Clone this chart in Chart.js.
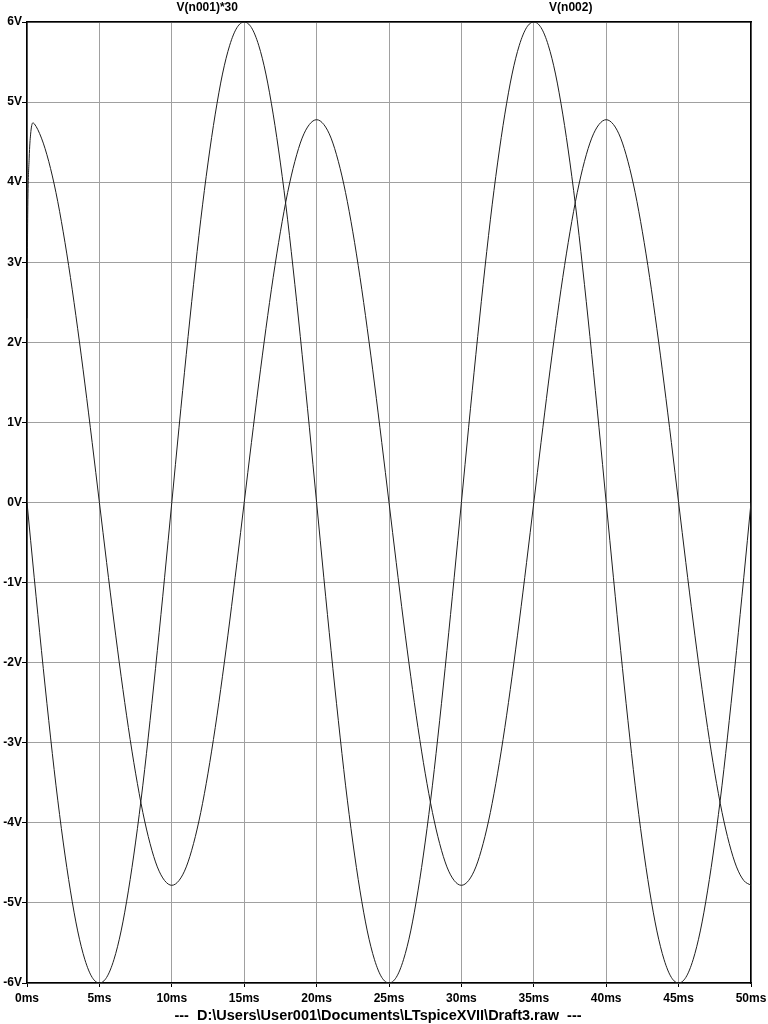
<!DOCTYPE html>
<html>
<head>
<meta charset="utf-8">
<script src="https://cdn.jsdelivr.net/npm/chart.js@4"></script>
<style>
  html, body { margin: 0; padding: 0; background: #fff; }
  #wrap { width: 768px; height: 1024px; }
</style>
</head>
<body>
<div id="wrap"><canvas id="plot"></canvas></div>
<script>
// time axis (ms), 0.5 ms steps
var timeMs = [
  0,0.5,1,1.5,2,2.5,3,3.5,4,4.5,5,5.5,6,6.5,7,7.5,8,8.5,9,9.5,
  10,10.5,11,11.5,12,12.5,13,13.5,14,14.5,15,15.5,16,16.5,17,17.5,18,18.5,19,19.5,
  20,20.5,21,21.5,22,22.5,23,23.5,24,24.5,25,25.5,26,26.5,27,27.5,28,28.5,29,29.5,
  30,30.5,31,31.5,32,32.5,33,33.5,34,34.5,35,35.5,36,36.5,37,37.5,38,38.5,39,39.5,
  40,40.5,41,41.5,42,42.5,43,43.5,44,44.5,45,45.5,46,46.5,47,47.5,48,48.5,49,49.5,50
];

// V(n001)*30
var vN001x30 = [
  0,-0.94,-1.85,-2.72,-3.53,-4.24,-4.85,-5.35,-5.71,-5.93,-6,
  -5.93,-5.71,-5.35,-4.85,-4.24,-3.53,-2.72,-1.85,-0.94,0,
  0.94,1.85,2.72,3.53,4.24,4.85,5.35,5.71,5.93,6,
  5.93,5.71,5.35,4.85,4.24,3.53,2.72,1.85,0.94,0,
  -0.94,-1.85,-2.72,-3.53,-4.24,-4.85,-5.35,-5.71,-5.93,-6,
  -5.93,-5.71,-5.35,-4.85,-4.24,-3.53,-2.72,-1.85,-0.94,0,
  0.94,1.85,2.72,3.53,4.24,4.85,5.35,5.71,5.93,6,
  5.93,5.71,5.35,4.85,4.24,3.53,2.72,1.85,0.94,0,
  -0.94,-1.85,-2.72,-3.53,-4.24,-4.85,-5.35,-5.71,-5.93,-6,
  -5.93,-5.71,-5.35,-4.85,-4.24,-3.53,-2.72,-1.85,-0.94,0
];

// V(n002) has a short start-up rise before 0.5 ms
var n002StartTime = [0, 0.05, 0.15, 0.25, 0.4];
var n002StartVolt = [2.3, 3.6, 4.3, 4.6, 4.74];

var vN002 = [
  4.73,4.55,4.26,3.87,3.38,2.81,2.17,1.48,0.75,0,
  -0.75,-1.48,-2.17,-2.81,-3.38,-3.87,-4.26,-4.55,-4.72,-4.78,
  -4.72,-4.55,-4.26,-3.87,-3.38,-2.81,-2.17,-1.48,-0.75,0,
  0.75,1.48,2.17,2.81,3.38,3.87,4.26,4.55,4.72,4.78,
  4.72,4.55,4.26,3.87,3.38,2.81,2.17,1.48,0.75,0,
  -0.75,-1.48,-2.17,-2.81,-3.38,-3.87,-4.26,-4.55,-4.72,-4.78,
  -4.72,-4.55,-4.26,-3.87,-3.38,-2.81,-2.17,-1.48,-0.75,0,
  0.75,1.48,2.17,2.81,3.38,3.87,4.26,4.55,4.72,4.78,
  4.72,4.55,4.26,3.87,3.38,2.81,2.17,1.48,0.75,0,
  -0.75,-1.48,-2.17,-2.81,-3.38,-3.87,-4.26,-4.55,-4.72,-4.78
];

var traceNames = ['V(n001)*30', 'V(n002)'];
var fileLabel = '---  D:\\Users\\User001\\Documents\\LTspiceXVII\\Draft3.raw  ---';

var pts1 = [];
for (var i = 0; i < timeMs.length; i++) {
  pts1.push({x: timeMs[i], y: vN001x30[i]});
}
var pts2 = [];
for (var j = 0; j < n002StartTime.length; j++) {
  pts2.push({x: n002StartTime[j], y: n002StartVolt[j]});
}
for (var k = 0; k < vN002.length; k++) {
  pts2.push({x: timeMs[k + 1], y: vN002[k]});
}

var labelFont = 'bold 12px "Liberation Sans", Arial, sans-serif';

// trace names above the plot and the file name below it
var extraText = {
  id: 'extraText',
  afterDraw: function(chart) {
    var c = chart.ctx, a = chart.chartArea;
    var w = a.right - a.left;
    c.save();
    c.fillStyle = '#000';
    c.font = labelFont;
    c.textAlign = 'center';
    c.textBaseline = 'middle';
    c.fillText(traceNames[0], a.left + w * 0.249, 8);
    c.fillText(traceNames[1], a.left + w * 0.751, 8);
    c.font = 'bold 14.5px "Liberation Sans", Arial, sans-serif';
    c.fillText(fileLabel, 378, 1016);
    c.restore();
  }
};

new Chart(document.getElementById('plot'), {
  type: 'line',
  data: {
    datasets: [
      {
        label: traceNames[0],
        data: pts1,
        borderColor: '#1e1e1e',
        borderWidth: 1,
        pointRadius: 0,
        cubicInterpolationMode: 'monotone'
      },
      {
        label: traceNames[1],
        data: pts2,
        borderColor: '#1e1e1e',
        borderWidth: 1,
        pointRadius: 0,
        cubicInterpolationMode: 'monotone'
      }
    ]
  },
  options: {
    responsive: true,
    maintainAspectRatio: false,
    animation: false,
    events: [],
    layout: { padding: { top: 22, right: 17, left: 0, bottom: 0 } },
    plugins: { legend: { display: false }, tooltip: { enabled: false } },
    scales: {
      x: {
        type: 'linear',
        min: 0,
        max: 50,
        afterFit: function(s) {
          s.height = 41;
          s.paddingLeft = 0;
          s.paddingRight = 0;
        },
        ticks: {
          stepSize: 5,
          color: '#000',
          font: { family: '"Liberation Sans", Arial, sans-serif', size: 12, weight: 'bold' },
          padding: 4,
          maxRotation: 0,
          callback: function(v) { return v + 'ms'; }
        },
        grid: { color: '#a0a0a0', lineWidth: 1, tickColor: '#000', tickLength: 4 },
        border: { color: '#000', width: 1.5 }
      },
      y: {
        min: -6,
        max: 6,
        afterFit: function(s) {
          s.width = 27;
          s.paddingTop = 0;
          s.paddingBottom = 0;
        },
        ticks: {
          stepSize: 1,
          color: '#000',
          font: { family: '"Liberation Sans", Arial, sans-serif', size: 12, weight: 'bold' },
          padding: 0,
          callback: function(v) { return v + 'V'; }
        },
        grid: { color: '#a0a0a0', lineWidth: 1, tickColor: '#000', tickLength: 5 },
        border: { color: '#000', width: 1.5 }
      },
      y2: {
        position: 'right',
        min: -6,
        max: 6,
        afterFit: function(s) { s.width = 0; },
        ticks: { display: false },
        grid: { display: false },
        border: { color: '#000', width: 1.5 }
      },
      x2: {
        type: 'linear',
        position: 'top',
        min: 0,
        max: 50,
        afterFit: function(s) { s.height = 0; },
        ticks: { display: false },
        grid: { display: false },
        border: { color: '#000', width: 1.5 }
      }
    }
  },
  plugins: [extraText]
});
</script>
</body>
</html>
